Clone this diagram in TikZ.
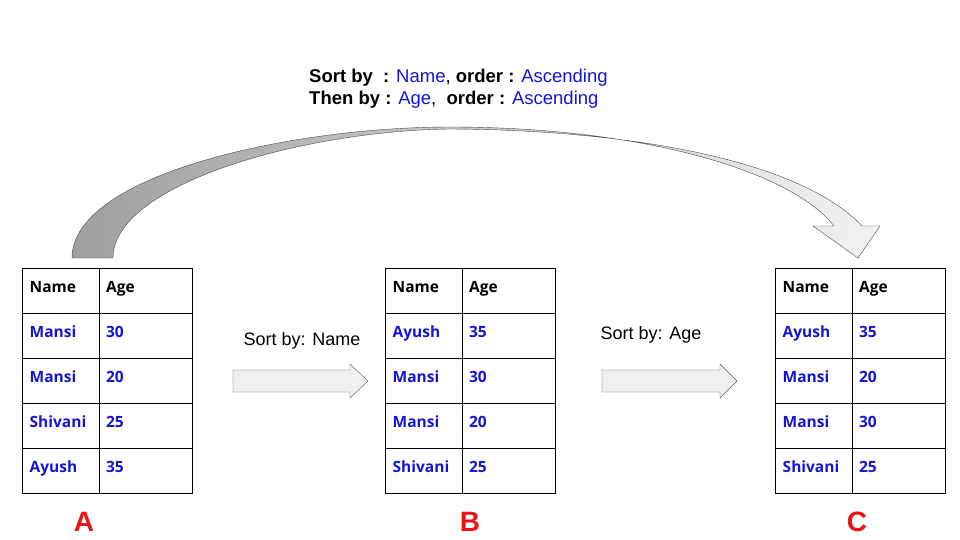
\documentclass[tikz,border=0pt]{standalone}
\usepackage{fontspec}
\setmainfont{Liberation Sans}
\newfontfamily\cellfont{Open Sans}
\usetikzlibrary{positioning, calc}
\definecolor{cellblue}{RGB}{20,20,210}
\definecolor{labred}{RGB}{235,20,20}
\tikzset{
  cell/.style={draw, minimum height=45pt, inner sep=0pt, text height=12pt, text depth=9pt,
    font=\cellfont\bfseries\fontsize{15.5}{17}\selectfont, anchor=north west},
  namecell/.style={cell, minimum width=77pt, text width=62pt, align=left},
  agecell/.style={cell, minimum width=93pt, text width=80pt, align=left},
  flat/.style={draw=gray!70!black, fill=gray!12},
  lbl/.style={font=\fontsize{18}{22}\selectfont},
  toplbl/.style={font=\fontsize{18.5}{22}\selectfont},
  letter/.style={text=labred, font=\bfseries\fontsize{28}{32}\selectfont}
}
\newcommand{\sorttable}[4]{%
  \foreach \nm/\ag [count=\i from 0] in {#4} {
    \node[namecell] (#1n\i) at (#2,{#3+45*\i}) {\ifnum\i=0 \nm\else\textcolor{cellblue}{\nm}\fi};
    \node[agecell] (#1a\i) at (#1n\i.north east) {\ifnum\i=0 \ag\else\textcolor{cellblue}{\ag}\fi};
  }
}
\begin{document}
\begin{tikzpicture}[x=1pt, y=-1pt]
\useasboundingbox (0,0) rectangle (960,540);

% top text
\node[toplbl, anchor=west, align=left, inner sep=0pt] (rule) at (309,89)
  {\textbf{Sort by\ \ :} \textcolor{cellblue}{Name}, \textbf{order :} \textcolor{cellblue}{Ascending}\\
   \textbf{Then by :} \textcolor{cellblue}{Age},\ \ \textbf{order :} \textcolor{cellblue}{Ascending}};

% curved arrow
\shade[left color=gray!75, right color=gray!10, draw=gray!60!black]
  (72,258) .. controls (72,175) and (290,127) .. (450,127)
  .. controls (640,127) and (790,170) .. (834,226) -- (813,226) -- (858,258) -- (880,226) -- (862,226)
  .. controls (800,160) and (630,130) .. (450,129)
  .. controls (300,131) and (113,185) .. (113,258) -- cycle;

% tables
\sorttable{A}{22}{268}{Name/Age, Mansi/30, Mansi/20, Shivani/25, Ayush/35}
\sorttable{B}{385}{268}{Name/Age, Ayush/35, Mansi/30, Mansi/20, Shivani/25}
\sorttable{C}{775}{268}{Name/Age, Ayush/35, Mansi/20, Mansi/30, Shivani/25}

% straight arrows
\draw[flat] (233,370) -- (350,370) -- (350,364) -- (368,381) -- (350,398) -- (350,392) -- (233,392) -- cycle;
\node[lbl] (lab1) at (302,341) {Sort by: Name};
\draw[flat] (602,370) -- (720,370) -- (720,364) -- (737,381) -- (720,398) -- (720,392) -- (602,392) -- cycle;
\node[lbl] (lab2) at (651,335) {Sort by: Age};

% letters
\node[letter] (la) at (84,522) {A};
\node[letter] (lb) at (470,522) {B};
\node[letter] (lc) at (857,522) {C};
\end{tikzpicture}
\end{document}
